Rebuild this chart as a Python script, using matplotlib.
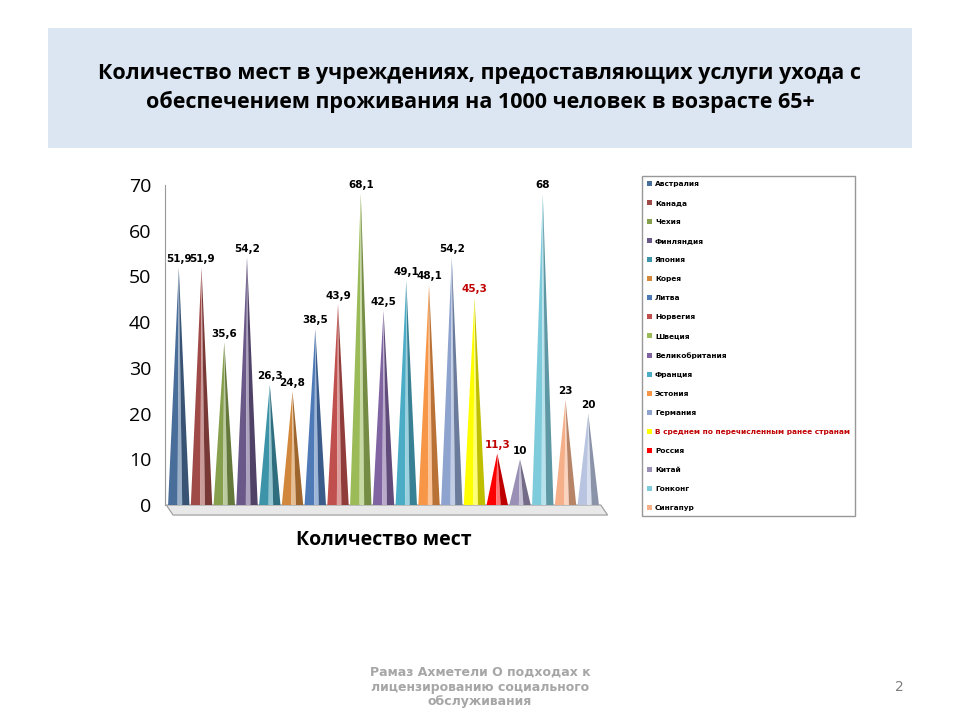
import matplotlib
matplotlib.use("Agg")
import matplotlib.pyplot as plt
from matplotlib.patches import Rectangle, Polygon
import matplotlib.colors as mc

categories = ["Австралия", "Канада", "Чехия", "Финляндия", "Япония", "Корея", "Литва",
              "Норвегия", "Швеция", "Великобритания", "Франция", "Эстония", "Германия",
              "В среднем по перечисленным ранее странам", "Россия", "Китай", "Гонконг",
              "Сингапур", ""]
values = [51.9, 51.9, 35.6, 54.2, 26.3, 24.8, 38.5, 43.9, 68.1, 42.5, 49.1, 48.1, 54.2,
          45.3, 11.3, 10, 68, 23, 20]
value_labels = ["51,9", "51,9", "35,6", "54,2", "26,3", "24,8", "38,5", "43,9", "68,1", "42,5",
                "49,1", "48,1", "54,2", "45,3", "11,3", "10", "68", "23", "20"]
colors = ["#4a6e9a", "#a04a48", "#86a04e", "#6a5888", "#3d93a8", "#d2883c", "#4f7ab8",
          "#c0504d", "#9bbb59", "#8064a2", "#4bacc6", "#f79646", "#8ea4cf", "#ffff00",
          "#ff0000", "#9a8fb5", "#7ecbdc", "#f5b08a", "#b8c4e0"]
yticks = [0, 10, 20, 30, 40, 50, 60, 70]

fig = plt.figure(figsize=(9.6, 7.2), dpi=100)
fig.patch.set_facecolor("white")
fig.add_artist(Rectangle((48/960, 1-148/720), 864/960, 120/720, transform=fig.transFigure,
                         facecolor="#dce6f2", edgecolor="none", zorder=0))
fig.text(0.5, 1-88/720, "Количество мест в учреждениях, предоставляющих услуги ухода с\n"
         "обеспечением проживания на 1000 человек в возрасте 65+",
         ha="center", va="center", fontsize=15.5, fontweight="bold", family="Open Sans",
         linespacing=1.4)

ax = fig.add_axes([0.172, 1-505/720, 0.455, 320/720])
n = len(values)
ax.set_xlim(-0.6, n - 0.4)
ax.set_ylim(0, 70)
w = 0.47
ax.add_patch(Polygon([(-0.55, 0), (n - 0.45, 0), (n - 0.15, -2.2), (-0.25, -2.2)],
                     closed=True, facecolor="#e8e8e8", edgecolor="#999999", lw=0.8,
                     clip_on=False, zorder=1))
for i, (v, c) in enumerate(zip(values, colors)):
    dark = mc.to_rgb(c)
    light = tuple(min(1, x * 0.55 + 0.45) for x in dark)
    shade = tuple(x * 0.75 for x in dark)
    ax.add_patch(Polygon([(i - w, 0), (i, v), (i - 0.05, 0)], closed=True,
                         facecolor=c, edgecolor="none", zorder=2))
    ax.add_patch(Polygon([(i - 0.05, 0), (i, v), (i + 0.15, 0)], closed=True,
                         facecolor=light, edgecolor="none", zorder=2))
    ax.add_patch(Polygon([(i + 0.15, 0), (i, v), (i + w, 0)], closed=True,
                         facecolor=shade, edgecolor="none", zorder=2))
    red = categories[i] in ("В среднем по перечисленным ранее странам", "Россия")
    ax.text(i, v + 0.8, value_labels[i], ha="center", va="bottom", fontsize=7.5,
            fontweight="bold", color="#c00000" if red else "black", zorder=3)

ax.set_yticks(yticks)
ax.set_yticklabels([str(t) for t in yticks], fontsize=14, family="Open Sans")
ax.set_xticks([])
for s in ["top", "right", "bottom"]:
    ax.spines[s].set_visible(False)
ax.spines["left"].set_color("#999999")
ax.tick_params(axis="y", length=0, pad=10)
ax.set_xlabel("Количество мест", fontsize=14, fontweight="bold", family="Open Sans",
              labelpad=18)

handles = [Rectangle((0, 0), 1, 1, facecolor=c) for c in colors[:18]]
leg = fig.legend(handles, categories[:18], loc="upper left",
                 bbox_to_anchor=(638/960, 1-172/720), frameon=True, fancybox=False,
                 prop={"size": 5.3, "weight": "bold"}, handlelength=0.7, handleheight=0.7,
                 labelspacing=1.75, borderpad=0.7, handletextpad=0.4)
leg.get_frame().set_edgecolor("#7f7f7f")
leg.get_texts()[13].set_color("#c00000")

fig.text(480/960, 1-687/720, "Рамаз Ахметели О подходах к\nлицензированию социального\nобслуживания",
         ha="center", va="center", fontsize=9, fontweight="bold", color="#a6a6a6")
fig.text(899/960, 1-687/720, "2", ha="center", va="center", fontsize=10, color="#7f7f7f")

fig.savefig("out.png", dpi=100)
